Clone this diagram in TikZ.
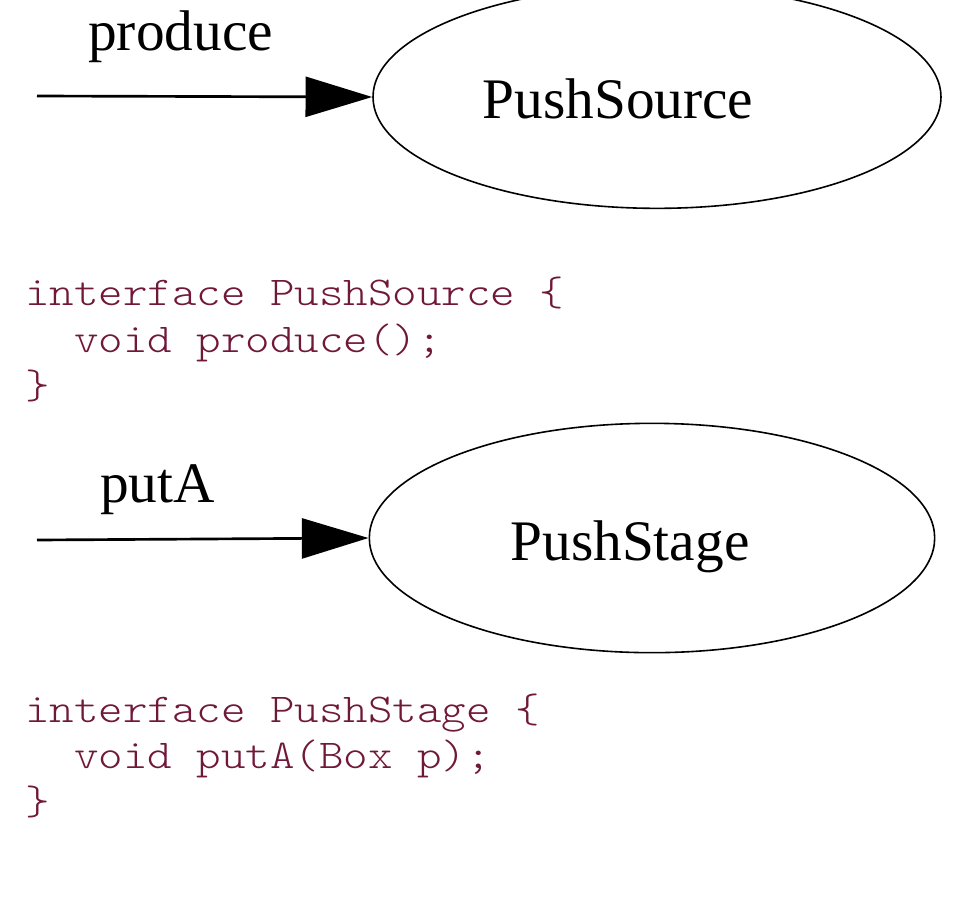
\documentclass[tikz,border=0pt]{standalone}
\usepackage{fontspec}
\setmainfont{Liberation Serif}
\newfontfamily\codefont[FakeStretch=1.14]{lmmonolt10-regular.otf}
\usetikzlibrary{shapes.geometric,arrows.meta}
\definecolor{codecol}{RGB}{112,24,56}
\tikzset{
  state/.style={draw, ellipse, line width=1.2pt, inner sep=0pt},
  statetext/.style={font=\fontsize{43}{43}\selectfont, inner sep=0pt, anchor=base},
  edgelabel/.style={font=\fontsize{43}{43}\selectfont, inner sep=0pt, anchor=base west},
  code/.style={font=\codefont\fontsize{30.7}{30.7}\selectfont, text=codecol, inner sep=0pt, anchor=base west},
  callarrow/.style={line width=2pt, -{Triangle[length=50pt,width=30pt]}}
}
\begin{document}
\begin{tikzpicture}[x=0.75pt,y=-0.75pt]
\useasboundingbox (0,0) rectangle (978,918);
\node[state, minimum width=426pt, minimum height=167pt] (src) at (657,97) {};
\node[statetext] (srct) at (618,118) {PushSource};
\coordinate (srcin) at (37,96);
\draw[callarrow] (srcin) -- (src.west);
\node[edgelabel] (lprod) at (88,50) {produce};
\node[code] (c1a) at (25,305) {interface PushSource \{};
\node[code] (c1b) at (25,352) {\ \ void produce();};
\node[code] (c1c) at (25,398) {\}};

\node[state, minimum width=424pt, minimum height=172pt] (stg) at (652,538) {};
\node[statetext] (stgt) at (630,560) {PushStage};
\coordinate (stgin) at (37,540);
\draw[callarrow] (stgin) -- (stg.west);
\node[edgelabel] (lput) at (100,502) {putA};
\node[code] (c2a) at (25,722) {interface PushStage \{};
\node[code] (c2b) at (25,768) {\ \ void putA(Box p);};
\node[code] (c2c) at (25,814) {\}};
\end{tikzpicture}
\end{document}
